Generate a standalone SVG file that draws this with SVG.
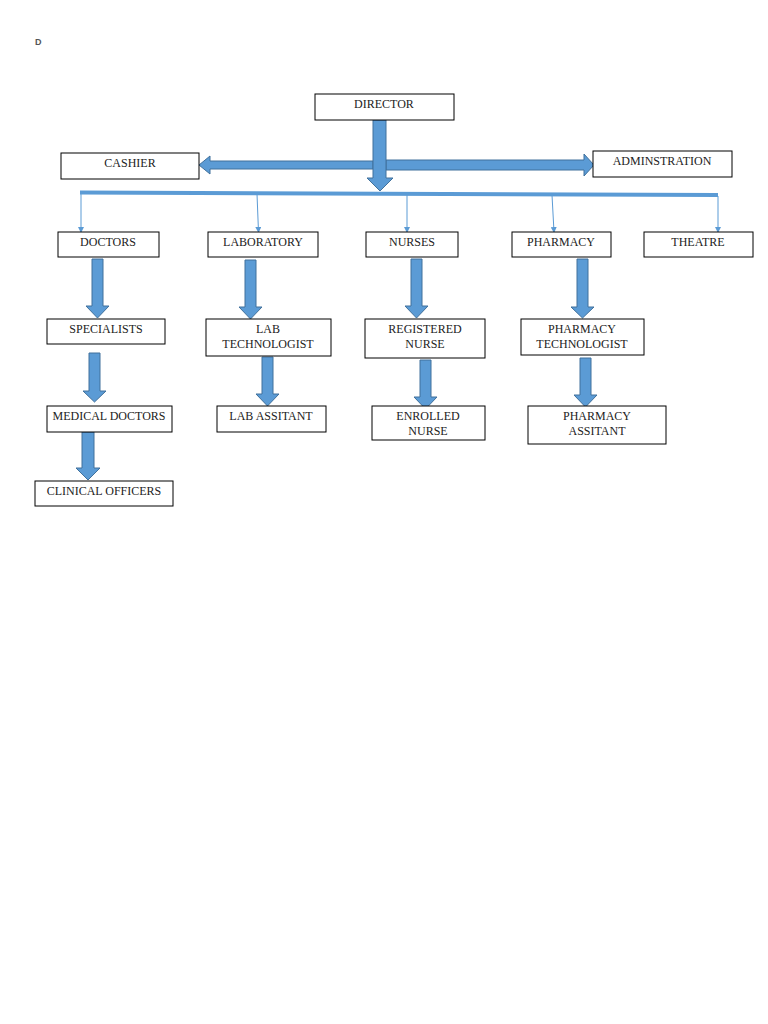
<svg xmlns="http://www.w3.org/2000/svg" width="768" height="1024" viewBox="0 0 768 1024">
<defs>
<style>
.box{fill:#fff;stroke:#000;stroke-width:1}
.t{font-family:"Liberation Serif","Times New Roman",serif;font-size:12px;fill:#222;text-anchor:middle}
.blk{fill:#5b9bd5;stroke:#41719c;stroke-width:1}
.thin{stroke:#5b9bd5;stroke-width:1;fill:none}
.bus{stroke:#5b9bd5;stroke-width:4;fill:none}
</style>
<marker id="ah" markerWidth="6" markerHeight="6" refX="5" refY="3" orient="auto" markerUnits="userSpaceOnUse">
<path d="M0,0 L6,3 L0,6 Z" fill="#5b9bd5"/>
</marker>
</defs>
<rect width="768" height="1024" fill="#fff"/>
<text x="35" y="45" font-family="Liberation Sans,Arial,sans-serif" font-size="9" font-weight="bold" fill="#555">D</text>

<g id="connectors">
<path class="blk" d="M210,161 L373,161 L373,169 L210,169 L210,174 L199,165 L210,156 Z"/>
<path class="blk" d="M386,160 L584,160 L584,154 L594,165 L584,176 L584,170 L386,170 Z"/>
<path class="blk" d="M373,120 L386,120 L386,178 L393,178 L380,191 L367,178 L373,178 Z"/>
<path class="bus" d="M80,192.5 L718,195"/>
<line class="thin" x1="81" y1="194" x2="81" y2="232" marker-end="url(#ah)"/>
<line class="thin" x1="257" y1="194" x2="258.5" y2="232" marker-end="url(#ah)"/>
<line class="thin" x1="407" y1="195" x2="407" y2="232" marker-end="url(#ah)"/>
<line class="thin" x1="552" y1="195" x2="554" y2="232" marker-end="url(#ah)"/>
<line class="thin" x1="718" y1="196" x2="718" y2="232" marker-end="url(#ah)"/>
<path class="blk" d="M92,259 L103,259 L103,306 L109,306 L97.5,318 L86,306 L92,306 Z"/>
<path class="blk" d="M245,260 L256,260 L256,307 L262,307 L250.5,319 L239,307 L245,307 Z"/>
<path class="blk" d="M411,259 L422,259 L422,306 L428,306 L416.5,318 L405,306 L411,306 Z"/>
<path class="blk" d="M577,259 L588,259 L588,307 L594,307 L582.5,318 L571,307 L577,307 Z"/>
<path class="blk" d="M89,353 L100,353 L100,391 L106,391 L94.5,402 L83,391 L89,391 Z"/>
<path class="blk" d="M262,357 L273,357 L273,394 L279,394 L267.5,406 L256,394 L262,394 Z"/>
<path class="blk" d="M420,360 L431,360 L431,397 L437,397 L425.5,409 L414,397 L420,397 Z"/>
<path class="blk" d="M580,358 L591,358 L591,395 L597,395 L585.5,407 L574,395 L580,395 Z"/>
<path class="blk" d="M82,432 L94,432 L94,468 L100,468 L88,480 L76,468 L82,468 Z"/>
</g>

<g id="director"><rect class="box" x="315" y="94" width="139" height="26"/><text class="t" x="384" y="108">DIRECTOR</text></g>
<g id="cashier"><rect class="box" x="61" y="153" width="138" height="26"/><text class="t" x="130" y="167">CASHIER</text></g>
<g id="adminstration"><rect class="box" x="593" y="151" width="139" height="26"/><text class="t" x="662" y="165">ADMINSTRATION</text></g>
<g id="doctors"><rect class="box" x="58" y="232" width="101" height="25"/><text class="t" x="108" y="246">DOCTORS</text></g>
<g id="laboratory"><rect class="box" x="208" y="232" width="110" height="25"/><text class="t" x="263" y="246">LABORATORY</text></g>
<g id="nurses"><rect class="box" x="366" y="232" width="92" height="25"/><text class="t" x="412" y="246">NURSES</text></g>
<g id="pharmacy"><rect class="box" x="512" y="232" width="99" height="25"/><text class="t" x="561" y="246">PHARMACY</text></g>
<g id="theatre"><rect class="box" x="644" y="232" width="109" height="25"/><text class="t" x="698" y="246">THEATRE</text></g>
<g id="specialists"><rect class="box" x="47" y="319" width="118" height="25"/><text class="t" x="106" y="333">SPECIALISTS</text></g>
<g id="lab-technologist"><rect class="box" x="206" y="319" width="125" height="37"/><text class="t" x="268" y="333">LAB</text><text class="t" x="268" y="348">TECHNOLOGIST</text></g>
<g id="registered-nurse"><rect class="box" x="365" y="319" width="120" height="39"/><text class="t" x="425" y="333">REGISTERED</text><text class="t" x="425" y="348">NURSE</text></g>
<g id="pharmacy-technologist"><rect class="box" x="521" y="319" width="123" height="36"/><text class="t" x="582" y="333">PHARMACY</text><text class="t" x="582" y="348">TECHNOLOGIST</text></g>
<g id="medical-doctors"><rect class="box" x="47" y="406" width="125" height="26"/><text class="t" x="109" y="420">MEDICAL DOCTORS</text></g>
<g id="lab-assitant"><rect class="box" x="217" y="406" width="109" height="26"/><text class="t" x="271" y="420">LAB ASSITANT</text></g>
<g id="enrolled-nurse"><rect class="box" x="372" y="406" width="113" height="34"/><text class="t" x="428" y="420">ENROLLED</text><text class="t" x="428" y="435">NURSE</text></g>
<g id="pharmacy-assitant"><rect class="box" x="528" y="406" width="138" height="38"/><text class="t" x="597" y="420">PHARMACY</text><text class="t" x="597" y="435">ASSITANT</text></g>
<g id="clinical-officers"><rect class="box" x="35" y="481" width="138" height="25"/><text class="t" x="104" y="495">CLINICAL OFFICERS</text></g>
</svg>
